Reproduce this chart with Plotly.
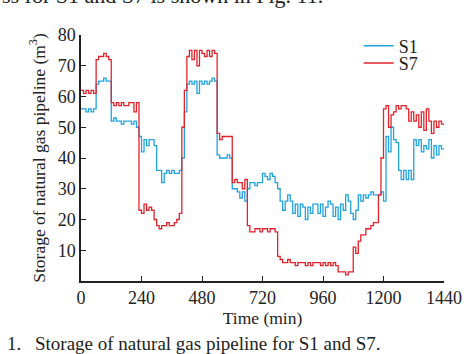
import plotly.graph_objects as go

time_min = list(range(0, 1441, 10))

s1 = [56, 56, 55, 56, 55, 56, 64, 65, 65, 66, 65, 65,
      52, 53, 52, 52, 51, 52, 52, 52, 51, 52, 50, 47,
      42, 46, 44, 46, 46, 44, 36, 36, 32, 35, 36, 35,
      36, 35, 35, 36, 40, 55, 64, 65, 64, 65, 61, 65,
      64, 65, 64, 65, 66, 65, 41, 40, 40, 40, 41, 40,
      30, 30, 29, 27, 29, 26, 30, 32, 32, 31, 32, 32,
      35, 34, 33, 35, 34, 32, 30, 26, 23, 26, 28, 26,
      22, 25, 21, 25, 24, 20, 24, 22, 25, 25, 22, 25,
      21, 24, 26, 25, 21, 24, 20, 25, 23, 28, 26, 22,
      20, 23, 28, 26, 28, 27, 28, 29, 28, 28, 28, 29,
      26, 47, 42, 50, 46, 45, 36, 33, 36, 33, 36, 33,
      46, 44, 46, 42, 44, 43, 46, 40, 44, 41, 44, 43, 43]

s7 = [62, 61, 62, 61, 62, 61, 72, 73, 73, 74, 73, 72,
      58, 57, 58, 57, 58, 57, 57, 58, 58, 55, 58, 23,
      22, 25, 23, 24, 23, 20, 18, 17, 18, 18, 19, 18,
      18, 19, 20, 22, 50, 62, 73, 75, 72, 75, 70, 75,
      74, 73, 75, 73, 75, 74, 48, 46, 47, 47, 47, 47,
      32, 33, 32, 32, 30, 33, 18, 16, 16, 17, 17, 16,
      17, 17, 16, 17, 17, 16, 8, 7, 6, 6, 7, 6,
      6, 5, 6, 6, 6, 5, 6, 5, 6, 6, 6, 5,
      6, 5, 6, 5, 6, 5, 3, 3, 3, 2, 3, 3,
      11, 9, 13, 15, 15, 17, 17, 18, 19, 19, 28, 40,
      56, 57, 50, 54, 55, 57, 56, 57, 57, 56, 52, 55,
      52, 54, 50, 55, 49, 56, 52, 48, 52, 50, 52, 51, 51]

x_ticks = [0, 240, 480, 720, 960, 1200, 1440]
y_ticks = [10, 20, 30, 40, 50, 60, 70, 80]

FONT = "Liberation Serif"
INK = "#222"

fig = go.Figure()
fig.add_trace(go.Scatter(x=time_min, y=s1, name="S1", mode="lines", legend="legend",
                         line=dict(color="#22a3de", width=1.3, shape="hv")))
fig.add_trace(go.Scatter(x=time_min, y=s7, name="S7", mode="lines", legend="legend2",
                         line=dict(color="#e3232c", width=1.3, shape="hv")))

leg_common = dict(xanchor="left", yanchor="middle", bgcolor="rgba(0,0,0,0)",
                  font=dict(size=18, family=FONT, color=INK), itemwidth=30)

fig.update_layout(
    width=474, height=354,
    margin=dict(l=81, r=18, t=35, b=73),
    paper_bgcolor="white", plot_bgcolor="white",
    font=dict(family=FONT, size=18, color=INK),
    showlegend=True,
    legend=dict(x=0.765, y=0.955, **leg_common),
    legend2=dict(x=0.765, y=0.885, **leg_common),
    xaxis=dict(range=[0, 1440], tickvals=x_ticks, ticktext=[str(v) for v in x_ticks],
               showline=True, linecolor=INK, linewidth=1.5, ticks="inside",
               ticklen=5, tickcolor=INK, showgrid=False, zeroline=False,
               tickfont=dict(size=18),
               title=dict(text="Time (min)", standoff=4, font=dict(size=17.5))),
    yaxis=dict(range=[0, 80], tickvals=y_ticks, ticktext=[str(v) for v in y_ticks],
               showline=True, linecolor=INK, linewidth=1.5, ticks="inside",
               ticklen=5, tickcolor=INK, showgrid=False, zeroline=False,
               tickfont=dict(size=18),
               title=dict(text="Storage of natural gas pipeline (m<sup>3</sup>)",
                          standoff=8, font=dict(size=17.5))),
)

fig.add_annotation(text="ss for S1 and S7 is shown in Fig. 11.", xref="paper", yref="paper",
                   x=-0.222, y=1.16, xanchor="left", yanchor="middle", showarrow=False,
                   font=dict(size=22, family=FONT, color=INK))
fig.add_annotation(text="1.", xref="paper", yref="paper",
                   x=-0.21, y=-0.255, xanchor="left", yanchor="middle", showarrow=False,
                   font=dict(size=19, family=FONT, color=INK))
fig.add_annotation(text="Storage of natural gas pipeline for S1 and S7.", xref="paper", yref="paper",
                   x=-0.133, y=-0.255, xanchor="left", yanchor="middle", showarrow=False,
                   font=dict(size=19, family=FONT, color=INK))

fig.write_html("out.html")
